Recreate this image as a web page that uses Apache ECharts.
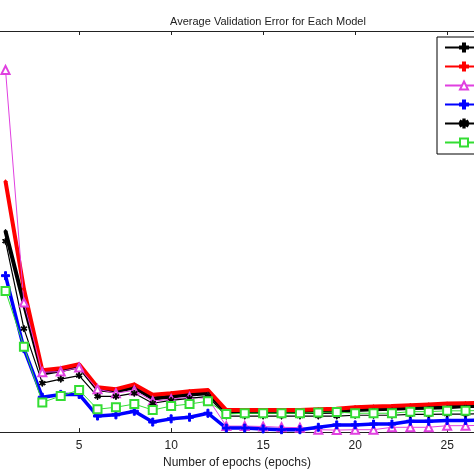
<!DOCTYPE html>
<html>
<head>
<meta charset="utf-8">
<script src="https://cdn.jsdelivr.net/npm/echarts@6/dist/echarts.min.js"></script>
<style>
  html, body { margin: 0; padding: 0; background: #fff; }
  #chart { width: 474px; height: 474px; }
</style>
</head>
<body>
<div id="chart"></div>
<script>
// epochs 1..30
var epochs = [];
for (var i = 1; i <= 30; i++) epochs.push(i);

var xTicks = [5, 10, 15, 20, 25];

// (average validation error, arbitrary units 0..1)
var model1 = [0.501, 0.320, 0.146, 0.154, 0.164, 0.107, 0.102, 0.112, 0.084, 0.089,
  0.094, 0.097, 0.050, 0.050, 0.050, 0.050, 0.050, 0.050, 0.051, 0.055,
  0.057, 0.058, 0.060, 0.061, 0.062, 0.065, 0.065, 0.066, 0.066, 0.067]
var model2 = [0.625, 0.357, 0.154, 0.159, 0.169, 0.112, 0.107, 0.119, 0.093, 0.097,
  0.102, 0.105, 0.055, 0.055, 0.055, 0.055, 0.055, 0.057, 0.058, 0.062,
  0.064, 0.065, 0.067, 0.069, 0.071, 0.072, 0.073, 0.074, 0.074, 0.075]
var model3 = [0.903, 0.323, 0.149, 0.151, 0.161, 0.107, 0.097, 0.104, 0.077, 0.082,
  0.087, 0.084, 0.015, 0.015, 0.014, 0.012, 0.011, 0.006, 0.005, 0.006,
  0.006, 0.012, 0.012, 0.012, 0.016, 0.016, 0.017, 0.017, 0.018, 0.018]
var model4 = [0.390, 0.208, 0.087, 0.094, 0.094, 0.040, 0.043, 0.052, 0.025, 0.033,
  0.037, 0.047, 0.010, 0.010, 0.008, 0.006, 0.006, 0.012, 0.018, 0.018,
  0.020, 0.020, 0.027, 0.027, 0.029, 0.029, 0.030, 0.030, 0.031, 0.031]
var model5 = [0.476, 0.258, 0.122, 0.132, 0.141, 0.089, 0.089, 0.097, 0.072, 0.079,
  0.084, 0.089, 0.040, 0.040, 0.040, 0.040, 0.040, 0.040, 0.040, 0.042,
  0.042, 0.042, 0.044, 0.044, 0.045, 0.045, 0.046, 0.046, 0.046, 0.047]
var model6 = [0.352, 0.213, 0.074, 0.090, 0.105, 0.057, 0.062, 0.070, 0.055, 0.065,
  0.070, 0.077, 0.045, 0.047, 0.047, 0.047, 0.047, 0.049, 0.050, 0.047,
  0.047, 0.047, 0.051, 0.051, 0.053, 0.053, 0.054, 0.054, 0.055, 0.055]

var names = ['Model 1', 'Model 2', 'Model 3', 'Model 4', 'Model 5', 'Model 6']

var plus = 'path://M3,0H5V3H8V5H5V8H3V5H0V3H3Z'
var star = 'path://M3.4,0H4.6V2.9L7.1,1.4L7.7,2.5L5.2,4L7.7,5.5L7.1,6.6L4.6,5.1V8H3.4V5.1L0.9,6.6L0.3,5.5L2.8,4L0.3,2.5L0.9,1.4L3.4,2.9Z'

function pairs(arr) {
  return arr.map(function (v, i) { return [epochs[i], v] })
}

function line(name, data, color, width, symbol, size) {
  return {
    name: name,
    type: 'line',
    data: pairs(data),
    symbol: symbol,
    symbolSize: size,
    lineStyle: { color: color, width: width },
    itemStyle: { color: color, borderColor: color, borderWidth: 1 },
    emphasis: { disabled: true }
  }
}

var chart = echarts.init(document.getElementById('chart'))

// the original figure is cropped: the plot starts a bit left of epoch 1
// and runs past the right edge of the picture
var xMin = 0.7
var xMax = 26.46

chart.setOption({
  animation: false,
  backgroundColor: '#fff',
  title: {
    text: 'Average Validation Error for Each Model',
    left: 263,
    textAlign: 'center',
    top: 11,
    textStyle: {
      fontFamily: 'Liberation Sans',
      fontSize: 11,
      fontWeight: 'normal',
      color: '#222'
    }
  },
  legend: {
    orient: 'vertical',
    left: 437,
    top: 37,
    padding: [5, 8, 6, 7],
    itemWidth: 38,
    itemHeight: 10,
    itemGap: 8,
    backgroundColor: '#fff',
    borderColor: '#000',
    borderWidth: 1,
    borderRadius: 0,
    textStyle: { fontFamily: 'Liberation Sans', fontSize: 11, color: '#000' },
    data: names
  },
  grid: {
    left: 0,
    right: 0,
    top: 31,
    bottom: 40
  },
  xAxis: [
    {
      type: 'value',
      min: xMin,
      max: xMax,
      name: 'Number of epochs (epochs)',
      nameLocation: 'middle',
      nameGap: 24,
      nameTextStyle: { fontFamily: 'Liberation Sans', fontSize: 12, color: '#222' },
      axisLine: { show: true, lineStyle: { color: '#222', width: 1 } },
      axisTick: { show: true, inside: true, length: 4, customValues: xTicks, lineStyle: { color: '#222' } },
      axisLabel: { fontFamily: 'Liberation Sans', fontSize: 12, color: '#222', margin: 8, customValues: xTicks },
      splitLine: { show: false }
    },
    {
      type: 'value',
      position: 'top',
      min: xMin,
      max: xMax,
      axisLine: { show: true, lineStyle: { color: '#222', width: 1 } },
      axisTick: { show: true, inside: true, length: 4, customValues: xTicks, lineStyle: { color: '#222' } },
      axisLabel: { show: false },
      splitLine: { show: false }
    }
  ],
  yAxis: {
    type: 'value',
    min: 0,
    max: 1,
    axisLine: { show: false },
    axisTick: { show: false },
    axisLabel: { show: false },
    splitLine: { show: false }
  },
  series: [
    line(names[0], model1, '#000000', 4, plus, 3),
    line(names[1], model2, '#ff0000', 4, plus, 3),
    line(names[2], model3, '#e040e0', 1, 'emptyTriangle', 8),
    line(names[3], model4, '#0000ff', 3.5, plus, 8),
    line(names[4], model5, '#000000', 1.2, star, 6),
    line(names[5], model6, '#33dd33', 1, 'emptyRect', 8)
  ]
})
</script>
</body>
</html>
